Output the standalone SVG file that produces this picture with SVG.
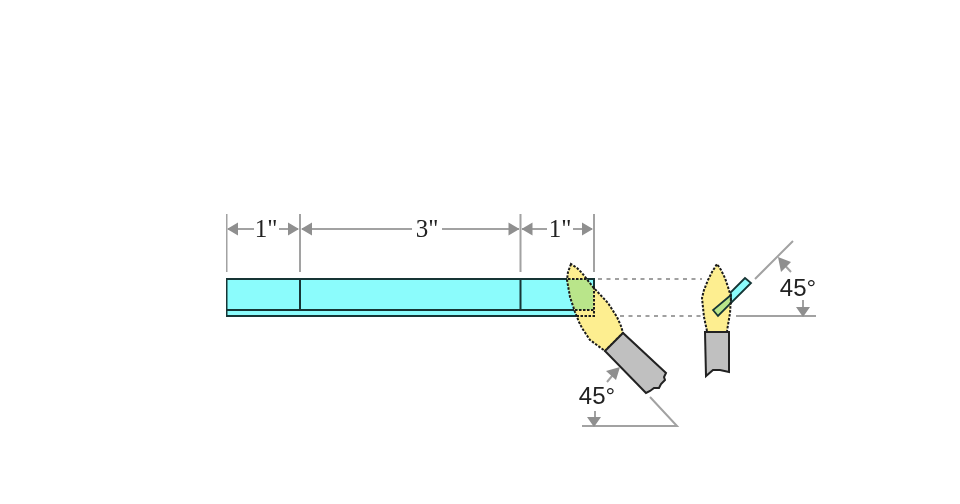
<svg xmlns="http://www.w3.org/2000/svg" width="960" height="504" viewBox="0 0 960 504">
<style>
.dim{stroke:#a2a2a2;stroke-width:2;fill:none}
.ah{fill:#8f8f8f;stroke:none}
.out{stroke:#143434;stroke-width:2;fill:none}
.dot{stroke:#1a1a1a;stroke-width:2;stroke-dasharray:2.500 1.500;fill:none}
.dash{stroke:#a0a0a0;stroke-width:2;stroke-dasharray:4 4.500;fill:none}
.blue{fill:#8bfcfc}.yel{fill:#fdee90}.grn{fill:#b9e58a}.gry{fill:#c0c0c0}
text{fill:#222;font-family:"Liberation Sans",Arial,sans-serif;font-size:24px;text-anchor:middle}
.s{font-family:"Liberation Serif","Times New Roman",serif;font-size:25px}
</style>
<defs><filter id="soft" x="0" y="0" width="100%" height="100%"><feGaussianBlur stdDeviation="0.450"/></filter></defs>
<rect width="960" height="504" fill="#fff"/>
<g filter="url(#soft)">
<g id="bar">
<rect class="blue" x="226.500" y="279" width="367.500" height="37"/>
<path class="out" d="M226.500 279H594V316H226.500ZM226.500 310H578M300 279V310M520.500 279V310"/>
</g>
<g id="torch-left">
<path class="yel" d="M571 264L568 272L567 280L570 297L575 312L579 322L582 328L590 340L605 351L623 333L621 326L617 317L608 303L593 287L582 273L577 268Z"/>
<path class="grn" d="M567 279H587L593 287V310H575L570 297Z"/>
<path class="dot" d="M571 264L568 272L567 280L570 297L575 312L579 322L582 328L590 340L605 351L623 333L621 326L617 317L608 303L593 287L582 273L577 268Z"/>
<path class="dot" d="M568 279H587M594 287V316H576M575 310H594"/>
<path class="gry" stroke="#222" stroke-width="2" d="M605 351L623 333L666 373L664 377L665 380L661 384L659 388L654 388L650 391L646 393Z"/>
</g>
<g id="torch-right">
<path class="blue" stroke="#143434" stroke-width="1.800" d="M713 310L718 316L751 283L745 278Z"/>
<path class="yel" d="M717 264L712 272L708 280L704 290L702 298L704 317L707 331H727L730 313L731 297L728 287L725 278L721 270Z"/>
<path class="grn" stroke="#143434" stroke-width="1.800" d="M713 310L718 316L731 303V295Z"/>
<path class="dot" d="M707 331L704 317L702 298L704 290L708 280L712 272L717 264L721 270L725 278L728 287L731 297L730 313L727 331"/>
<path class="gry" stroke="#222" stroke-width="2" d="M705 332H729V372L720 370L713 370L706 376Z"/>
</g>
<g id="connectors">
<path class="dim" d="M226.500 214V272M300 214V272M520.500 214V272M594 214V272"/>
<path class="dim" d="M228 229H254M279 229H298M302 229H412M442 229H519M522 229H547M573 229H592"/>
<path class="ah" d="M227 229L238 222.500V235.500ZM299 229L288 222.500V235.500ZM301 229L312 222.500V235.500ZM519.500 229L508.500 222.500V235.500ZM521.500 229L532.500 222.500V235.500ZM593 229L582 222.500V235.500Z"/>
<path class="dash" d="M598 279H702M620 316H702"/>
<path class="dim" d="M755 279L793 241M736 316H816M650 397L677 426H582"/>
<path class="dim" d="M791 272L780 260M803 300V314M607 382L617 370M595 411V424"/>
<path class="ah" d="M778 257L791 262L781 272ZM803 317L796 307H810ZM620 367L616 380L606 371ZM594 427L587 417H601Z"/>
</g>
<g id="labels">
<text class="s" x="266" y="237">1"</text>
<text class="s" x="427" y="237">3"</text>
<text class="s" x="560" y="237">1"</text>
<text x="798" y="296">45°</text>
<text x="597" y="404">45°</text>
</g>
</g>
</svg>
